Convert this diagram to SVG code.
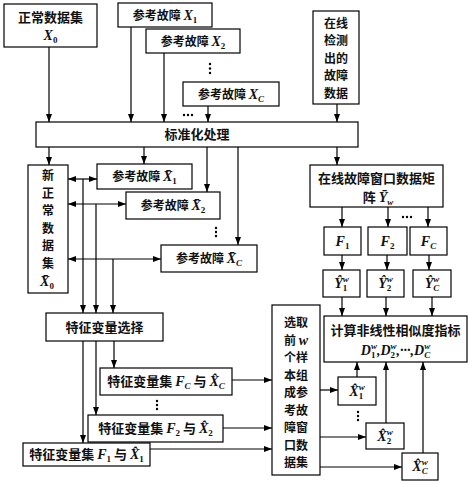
<svg xmlns="http://www.w3.org/2000/svg" width="474" height="484" viewBox="0 0 474 484">
<style>
.b{fill:#fff;stroke:#000;stroke-width:1.2}
.c path{stroke:#000;stroke-width:1.2;fill:none;marker-end:url(#a)}
.c path.d{marker-start:url(#a)}
.t{font-family:"Noto Sans CJK SC",sans-serif;font-size:13px;font-weight:bold;text-anchor:middle;fill:#111}
.r{font-size:12px}
.m{font-family:"Liberation Serif",serif;font-style:italic;font-weight:bold;font-size:14px}
.s{font-size:9px}
.n{font-style:normal}
.dot{fill:#000}
</style>
<defs>
<marker id="a" viewBox="0 0 8 6" refX="8" refY="3" markerWidth="8" markerHeight="6" markerUnits="userSpaceOnUse" orient="auto-start-reverse"><path d="M0,0 L8,3 L0,6 z" fill="#000"/></marker>
</defs>

<g class="c" id="connectors">
<path d="M49,47 V122"/>
<path d="M131,27 V122"/>
<path d="M164,53 V122"/>
<path d="M208,106 V122"/>
<path d="M337,104 V122"/>
<path d="M49,147 V165"/>
<path d="M144,147 V164"/>
<path d="M207,147 V192"/>
<path d="M238,147 V245"/>
<path d="M337,147 V165"/>
<path class="d" d="M68,179 H97"/>
<path class="d" d="M68,204 H126"/>
<path class="d" d="M68,259 H161"/>
<path d="M83,179 V313"/>
<path d="M96,204 V313"/>
<path d="M113,259 V313"/>
<path d="M83,341 V443"/>
<path d="M96,341 V415"/>
<path d="M114,341 V368"/>
<path d="M232,380 H272"/>
<path d="M223,428 H272"/>
<path d="M150,449 H272"/>
<path d="M320,390 H338"/>
<path d="M320,437 H366"/>
<path d="M320,467 H402"/>
<path d="M357,377 V362"/>
<path d="M386,423 V362"/>
<path d="M423,453 V362"/>
<path d="M342,207 V227"/>
<path d="M388,207 V227"/>
<path d="M428,207 V227"/>
<path d="M342,255 V270"/>
<path d="M387,255 V270"/>
<path d="M429,255 V270"/>
<path d="M342,297 V316"/>
<path d="M386,297 V316"/>
<path d="M432,297 V316"/>
</g>

<g id="dots">
<circle class="dot" cx="210" cy="64" r="1.2"/><circle class="dot" cx="210" cy="68.5" r="1.2"/><circle class="dot" cx="210" cy="73" r="1.2"/>
<circle class="dot" cx="184" cy="115" r="1.2"/><circle class="dot" cx="188" cy="115" r="1.2"/><circle class="dot" cx="192" cy="115" r="1.2"/>
<circle class="dot" cx="216" cy="228" r="1.2"/><circle class="dot" cx="216" cy="232" r="1.2"/><circle class="dot" cx="216" cy="236" r="1.2"/>
<circle class="dot" cx="157" cy="401" r="1.2"/><circle class="dot" cx="157" cy="405" r="1.2"/><circle class="dot" cx="157" cy="409" r="1.2"/>
<circle class="dot" cx="358" cy="412" r="1.2"/><circle class="dot" cx="358" cy="416" r="1.2"/><circle class="dot" cx="358" cy="420" r="1.2"/>
<circle class="dot" cx="403" cy="217" r="1.2"/><circle class="dot" cx="407" cy="217" r="1.2"/><circle class="dot" cx="411" cy="217" r="1.2"/>
</g>

<g id="normal">
<rect class="b" x="4" y="4" width="93" height="43"/>
<text class="t" x="50.5" y="21.5">正常数据集<tspan x="50.5" y="40" class="m">X</tspan><tspan class="m s n" dy="3">0</tspan></text>
</g>
<g id="ref1">
<rect class="b" x="118" y="3" width="94" height="24"/>
<text class="t r" x="165" y="19.5">参考故障 <tspan class="m">X</tspan><tspan class="m s n" dy="3">1</tspan></text>
</g>
<g id="ref2">
<rect class="b" x="146" y="29" width="94" height="24"/>
<text class="t r" x="193" y="46">参考故障 <tspan class="m">X</tspan><tspan class="m s n" dy="3">2</tspan></text>
</g>
<g id="refC">
<rect class="b" x="183" y="82" width="96" height="24"/>
<text class="t r" x="231" y="98.5">参考故障 <tspan class="m">X</tspan><tspan class="m s" dy="3">C</tspan></text>
</g>
<g id="online">
<rect class="b" x="313" y="11" width="46" height="93"/>
<text class="t r" x="336" y="27.7">在线<tspan x="336" y="45.2">检测</tspan><tspan x="336" y="62.7">出的</tspan><tspan x="336" y="80.2">故障</tspan><tspan x="336" y="97.7">数据</tspan></text>
</g>
<g id="std">
<rect class="b" x="36" y="122" width="322" height="25"/>
<text class="t" x="197" y="139">标准化处理</text>
</g>
<g id="newnormal">
<rect class="b" x="28" y="165" width="40" height="128"/>
<text class="t r" x="48" y="180.2">新<tspan x="48" y="197.7">正</tspan><tspan x="48" y="215.2">常</tspan><tspan x="48" y="232.7">数</tspan><tspan x="48" y="250.2">据</tspan><tspan x="48" y="267.7">集</tspan><tspan x="47" y="286" class="m">X&#x304;</tspan><tspan class="m s n" dy="3">0</tspan></text>
</g>
<g id="refbar1">
<rect class="b" x="97" y="164" width="95" height="25"/>
<text class="t r" x="144.5" y="181">参考故障 <tspan class="m">X&#x304;</tspan><tspan class="m s n" dy="3">1</tspan></text>
</g>
<g id="refbar2">
<rect class="b" x="126" y="192" width="94" height="27"/>
<text class="t r" x="173" y="210">参考故障 <tspan class="m">X&#x304;</tspan><tspan class="m s n" dy="3">2</tspan></text>
</g>
<g id="refbarC">
<rect class="b" x="161" y="245" width="96" height="27"/>
<text class="t r" x="209" y="263">参考故障 <tspan class="m">X&#x304;</tspan><tspan class="m s" dy="3">C</tspan></text>
</g>
<g id="window">
<rect class="b" x="310" y="165" width="133" height="42"/>
<text class="t" x="376.5" y="182.5">在线故障窗口数据矩<tspan x="378" y="201.5">阵 </tspan><tspan class="m">Y&#x304;</tspan><tspan class="m s" dy="3">w</tspan></text>
</g>
<g id="F1">
<rect class="b" x="324" y="227" width="37" height="28"/>
<text class="t" x="342.5" y="246"><tspan class="m">F</tspan><tspan class="m s n" dy="3">1</tspan></text>
</g>
<g id="F2">
<rect class="b" x="368" y="227" width="39" height="28"/>
<text class="t" x="387.5" y="246"><tspan class="m">F</tspan><tspan class="m s n" dy="3">2</tspan></text>
</g>
<g id="FC">
<rect class="b" x="410" y="227" width="37" height="28"/>
<text class="t" x="428.5" y="246"><tspan class="m">F</tspan><tspan class="m s" dy="3">C</tspan></text>
</g>
<g id="Y1">
<rect class="b" x="323" y="270" width="37" height="27"/>
<text class="t" x="341.5" y="288"><tspan class="m">&#x176;</tspan><tspan class="m s n" dy="3">1</tspan><tspan class="m s" dx="-4.5" dy="-9">w</tspan></text>
</g>
<g id="Y2">
<rect class="b" x="367" y="270" width="37" height="27"/>
<text class="t" x="385.5" y="288"><tspan class="m">&#x176;</tspan><tspan class="m s n" dy="3">2</tspan><tspan class="m s" dx="-4.5" dy="-9">w</tspan></text>
</g>
<g id="YC">
<rect class="b" x="413" y="270" width="38" height="27"/>
<text class="t" x="432" y="288"><tspan class="m">&#x176;</tspan><tspan class="m s" dy="3">C</tspan><tspan class="m s" dx="-6" dy="-9">w</tspan></text>
</g>
<g id="featsel">
<rect class="b" x="46" y="313" width="117" height="28"/>
<text class="t" x="104.5" y="331.5">特征变量选择</text>
</g>
<g id="fsetC">
<rect class="b" x="100" y="368" width="132" height="27"/>
<text class="t" x="166" y="386">特征变量集 <tspan class="m">F</tspan><tspan class="m s" dy="3">C</tspan><tspan dy="-3"> 与 </tspan><tspan class="m">X&#x302;</tspan><tspan class="m s" dy="3">C</tspan></text>
</g>
<g id="fset2">
<rect class="b" x="88" y="415" width="135" height="27"/>
<text class="t" x="155.5" y="433">特征变量集 <tspan class="m">F</tspan><tspan class="m s n" dy="3">2</tspan><tspan dy="-3"> 与 </tspan><tspan class="m">X&#x302;</tspan><tspan class="m s n" dy="3">2</tspan></text>
</g>
<g id="fset1">
<rect class="b" x="23" y="443" width="127" height="23"/>
<text class="t" x="86.5" y="459">特征变量集 <tspan class="m">F</tspan><tspan class="m s n" dy="3">1</tspan><tspan dy="-3"> 与 </tspan><tspan class="m">X&#x302;</tspan><tspan class="m s n" dy="3">1</tspan></text>
</g>
<g id="select">
<rect class="b" x="272" y="305" width="48" height="170"/>
<text class="t r" x="296" y="327.2">选取<tspan x="296" y="344.7">前 </tspan><tspan class="m">w</tspan><tspan x="296" y="362.2">个样</tspan><tspan x="296" y="379.7">本组</tspan><tspan x="296" y="397.2">成参</tspan><tspan x="296" y="414.7">考故</tspan><tspan x="296" y="432.2">障窗</tspan><tspan x="296" y="449.7">口数</tspan><tspan x="296" y="467.2">据集</tspan></text>
</g>
<g id="compute">
<rect class="b" x="324" y="316" width="143" height="46"/>
<text class="t" x="395.5" y="334.5">计算非线性相似度指标<tspan x="395.5" y="355" class="m">D</tspan><tspan class="m s n" dy="3">1</tspan><tspan class="m s" dx="-4.5" dy="-9">w</tspan><tspan class="m" dy="6">,</tspan><tspan class="m">D</tspan><tspan class="m s n" dy="3">2</tspan><tspan class="m s" dx="-4.5" dy="-9">w</tspan><tspan class="m" dy="6">,···,</tspan><tspan class="m">D</tspan><tspan class="m s" dy="3">C</tspan><tspan class="m s" dx="-6" dy="-9">w</tspan></text>
</g>
<g id="Xh1">
<rect class="b" x="338" y="377" width="38" height="28"/>
<text class="t" x="357" y="396"><tspan class="m">X&#x302;</tspan><tspan class="m s n" dy="3">1</tspan><tspan class="m s" dx="-4.5" dy="-9">w</tspan></text>
</g>
<g id="Xh2">
<rect class="b" x="366" y="423" width="38" height="26"/>
<text class="t" x="385" y="441"><tspan class="m">X&#x302;</tspan><tspan class="m s n" dy="3">2</tspan><tspan class="m s" dx="-4.5" dy="-9">w</tspan></text>
</g>
<g id="XhC">
<rect class="b" x="402" y="453" width="36" height="27"/>
<text class="t" x="420" y="471"><tspan class="m">X&#x302;</tspan><tspan class="m s" dy="3">C</tspan><tspan class="m s" dx="-6" dy="-9">w</tspan></text>
</g>
</svg>
